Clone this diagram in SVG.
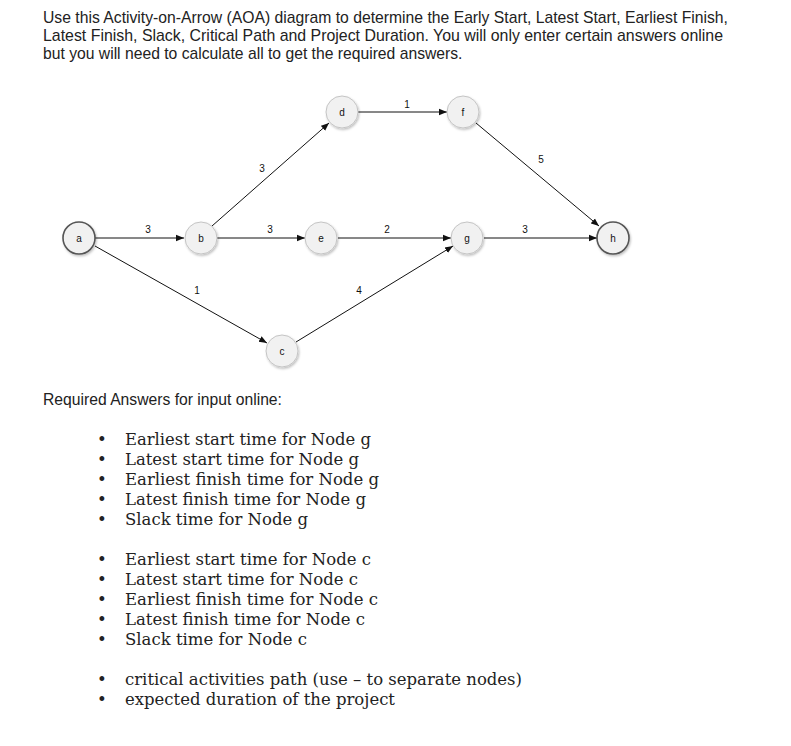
<svg xmlns="http://www.w3.org/2000/svg" width="791" height="746" viewBox="0 0 791 746">
<style>
.t{font-family:"Liberation Sans",Arial,sans-serif;font-size:15.7px;fill:#222}
.s text{font-family:"DejaVu Serif","Liberation Serif",serif;font-size:16.5px;fill:#222}
.n circle{fill:#f1f1f1;stroke:#c4c4c4;stroke-width:1}
.n.end circle{stroke:#555;stroke-width:1.6}
.n text,.lbl{font-family:"Liberation Sans",Arial,sans-serif;font-size:10px;fill:#111;text-anchor:middle}
.e line{stroke:#111;stroke-width:1;marker-end:url(#ah)}
</style>
<defs>
<marker id="ah" viewBox="0 0 10 10" refX="10" refY="5" markerWidth="8" markerHeight="8" markerUnits="userSpaceOnUse" orient="auto"><path d="M0,1 L10,5 L0,9 Z" fill="#111"/></marker>
<filter id="sh" x="-30%" y="-30%" width="160%" height="160%"><feDropShadow dx="1" dy="1.5" stdDeviation="1" flood-color="#000" flood-opacity="0.25"/></filter>
</defs>
<rect width="791" height="746" fill="#fff"/>
<text class="t" x="43" y="23" textLength="685" lengthAdjust="spacingAndGlyphs">Use this Activity-on-Arrow (AOA) diagram to determine the Early Start, Latest Start, Earliest Finish,</text>
<text class="t" x="43" y="41" textLength="680" lengthAdjust="spacingAndGlyphs">Latest Finish, Slack, Critical Path and Project Duration.  You will only enter certain answers online</text>
<text class="t" x="43" y="58.5">but you will need to calculate all to get the required answers.</text>

<g id="connectors" class="e">
<line x1="95" y1="238" x2="184" y2="238"/>
<line x1="212" y1="226" x2="329" y2="123"/>
<line x1="217" y1="238" x2="305" y2="238"/>
<line x1="95" y1="246" x2="267" y2="343"/>
<line x1="358" y1="112" x2="447" y2="112"/>
<line x1="338" y1="238" x2="451" y2="238"/>
<line x1="296" y1="342" x2="453" y2="246"/>
<line x1="476" y1="123" x2="599" y2="226"/>
<line x1="484" y1="238" x2="597" y2="238"/>
<text class="lbl" x="148" y="233">3</text>
<text class="lbl" x="262" y="172">3</text>
<text class="lbl" x="270" y="233">3</text>
<text class="lbl" x="197" y="294">1</text>
<text class="lbl" x="407" y="108">1</text>
<text class="lbl" x="387" y="233">2</text>
<text class="lbl" x="359" y="294">4</text>
<text class="lbl" x="541" y="163">5</text>
<text class="lbl" x="525" y="233">3</text>
</g>

<g id="node-a" class="n end"><circle cx="79" cy="238" r="16" filter="url(#sh)"/><text x="79" y="241.5">a</text></g>
<g id="node-b" class="n"><circle cx="201" cy="238" r="16" filter="url(#sh)"/><text x="201" y="241.5">b</text></g>
<g id="node-d" class="n"><circle cx="342" cy="112" r="16" filter="url(#sh)"/><text x="342" y="115.5">d</text></g>
<g id="node-e" class="n"><circle cx="321" cy="238" r="16" filter="url(#sh)"/><text x="321" y="241.5">e</text></g>
<g id="node-f" class="n"><circle cx="463" cy="112" r="16" filter="url(#sh)"/><text x="463" y="115.5">f</text></g>
<g id="node-g" class="n"><circle cx="467" cy="238" r="16" filter="url(#sh)"/><text x="467" y="241.5">g</text></g>
<g id="node-c" class="n"><circle cx="282" cy="351" r="16" filter="url(#sh)"/><text x="282" y="354.5">c</text></g>
<g id="node-h" class="n end"><circle cx="613" cy="238" r="16" filter="url(#sh)"/><text x="613" y="241.5">h</text></g>

<text class="t" x="43" y="405">Required Answers for input online:</text>
<g class="s">
<text x="97" y="445">•</text><text x="125" y="445" textLength="246" lengthAdjust="spacingAndGlyphs">Earliest start time for Node g</text>
<text x="97" y="465">•</text><text x="125" y="465" textLength="234" lengthAdjust="spacingAndGlyphs">Latest start time for Node g</text>
<text x="97" y="485">•</text><text x="125" y="485" textLength="254" lengthAdjust="spacingAndGlyphs">Earliest finish time for Node g</text>
<text x="97" y="505">•</text><text x="125" y="505" textLength="241" lengthAdjust="spacingAndGlyphs">Latest finish time for Node g</text>
<text x="97" y="525">•</text><text x="125" y="525" textLength="183" lengthAdjust="spacingAndGlyphs">Slack time for Node g</text>
<text x="97" y="565">•</text><text x="125" y="565" textLength="246" lengthAdjust="spacingAndGlyphs">Earliest start time for Node c</text>
<text x="97" y="585">•</text><text x="125" y="585" textLength="233" lengthAdjust="spacingAndGlyphs">Latest start time for Node c</text>
<text x="97" y="605">•</text><text x="125" y="605" textLength="253" lengthAdjust="spacingAndGlyphs">Earliest finish time for Node c</text>
<text x="97" y="625">•</text><text x="125" y="625" textLength="240" lengthAdjust="spacingAndGlyphs">Latest finish time for Node c</text>
<text x="97" y="645">•</text><text x="125" y="645" textLength="182" lengthAdjust="spacingAndGlyphs">Slack time for Node c</text>
<text x="97" y="685">•</text><text x="125" y="685" textLength="397" lengthAdjust="spacingAndGlyphs">critical activities path (use – to separate nodes)</text>
<text x="97" y="705">•</text><text x="125" y="705" textLength="270" lengthAdjust="spacingAndGlyphs">expected duration of the project</text>
</g>
</svg>
